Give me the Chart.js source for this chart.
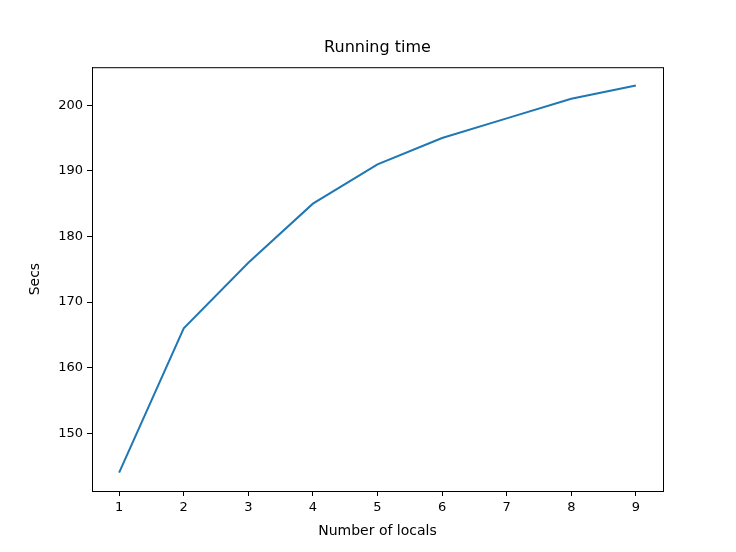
<!DOCTYPE html>
<html>
<head>
<meta charset="utf-8">
<script src="https://cdn.jsdelivr.net/npm/chart.js@4/dist/chart.umd.min.js"></script>
<style>
  html, body { margin: 0; padding: 0; background: #fff; }
  #wrap { width: 736px; height: 552px; }
</style>
</head>
<body>
<div id="wrap"><canvas id="runChart" width="736" height="552"></canvas></div>
<script>
// Data
const locals = [1, 2, 3, 4, 5, 6, 7, 8, 9];
const secs = [144, 166, 176, 185, 191, 195, 198, 201, 203];
const xTicks = [1, 2, 3, 4, 5, 6, 7, 8, 9];
const yTicks = [150, 160, 170, 180, 190, 200];

Chart.defaults.font.family = 'DejaVu Sans';
Chart.defaults.color = '#000';

// draw top and right spines like matplotlib, and center the title over the axes
const frame = {
    id: 'frame',
    afterLayout(chart) {
        const t = chart.titleBlock;
        if (t) {
            t.left = chart.chartArea.left;
            t.right = chart.chartArea.right;
            t.width = t.right - t.left;
        }
    },
    afterDraw(chart) {
        const a = chart.chartArea, c = chart.ctx;
        c.save();
        c.strokeStyle = '#000';
        c.lineWidth = 1;
        c.strokeRect(a.left + 0.5, a.top + 0.5, a.right - a.left, a.bottom - a.top);
        c.restore();
    }
};

new Chart(document.getElementById('runChart'), {
    type: 'line',
    data: {
        datasets: [{
            data: locals.map((x, i) => ({ x: x, y: secs[i] })),
            borderColor: '#1f77b4',
            borderWidth: 2,
            pointRadius: 0,
            tension: 0,
            fill: false
        }]
    },
    options: {
        responsive: false,
        animation: false,
        layout: { padding: { top: 0, right: 73, left: 0, bottom: 0 } },
        plugins: {
            legend: { display: false },
            tooltip: { enabled: false },
            title: {
                display: true,
                text: 'Running time',
                font: { size: 16, weight: 'normal' },
                padding: { top: 38, bottom: 10 }
            }
        },
        scales: {
            x: {
                type: 'linear',
                min: 0.58,
                max: 9.42,
                afterBuildTicks: s => { s.ticks = xTicks.map(v => ({ value: v })); },
                afterFit: s => { s.height = 61; },
                grid: { drawOnChartArea: false, drawTicks: true, tickLength: 5, color: '#000' },
                border: { display: true, color: '#000' },
                ticks: { font: { size: 13 }, padding: 4, maxRotation: 0 },
                title: { display: true, text: 'Number of locals', font: { size: 14 }, padding: { top: 4, bottom: 12 } }
            },
            y: {
                min: 141.2,
                max: 205.8,
                afterBuildTicks: s => { s.ticks = yTicks.map(v => ({ value: v })); },
                afterFit: s => { s.width = 92; },
                grid: { drawOnChartArea: false, drawTicks: true, tickLength: 5, color: '#000' },
                border: { display: true, color: '#000' },
                ticks: { font: { size: 13 }, padding: 4 },
                title: { display: true, text: 'Secs', font: { size: 14 }, padding: { top: 27, bottom: 4 } }
            }
        }
    },
    plugins: [frame]
});
</script>
</body>
</html>
